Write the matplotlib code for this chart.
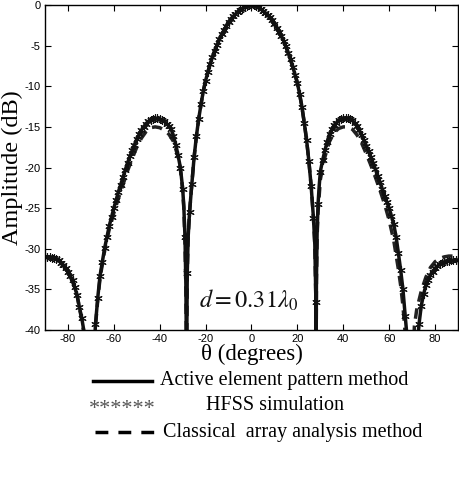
import numpy as np
import matplotlib
matplotlib.use("Agg")
import matplotlib.pyplot as plt
from matplotlib.lines import Line2D
from matplotlib import font_manager

plt.rcParams['axes.unicode_minus'] = False
plt.rcParams['mathtext.fontset'] = 'stix'

# active element pattern method (solid line)
aep_theta = [-90, -88, -86, -84, -82, -80, -78, -76, -75, -74, -73, -72, -70, -68.5, -68, -67, -66,
             -65, -64, -62, -60, -58, -56, -54, -52, -50, -48, -46, -44, -42, -40, -38, -36, -35,
             -34, -33, -32, -31, -30, -29.5, -29, -28.6, -28.3, -28.0, -27.6, -27, -26, -25, -24,
             -23, -22, -21, -20, -18, -16, -14, -12, -10, -8, -6, -4, -2, 0,
             2, 4, 6, 8, 10, 12, 14, 16, 18, 20, 21, 22, 23, 24, 25, 26, 27, 27.6, 28.0, 28.15,
             28.3, 28.6, 29, 29.5, 30, 31, 32, 33, 34, 36, 38, 40, 42, 44, 46, 48, 50, 52, 54, 56,
             58, 60, 62, 63, 64, 65, 66, 67, 68, 70, 72, 72.5, 73, 74, 75, 76, 78, 80, 82, 84, 86,
             88, 90]
aep_db = [-31.0, -31.0, -31.1, -31.4, -32.0, -32.8, -33.9, -35.7, -37.2, -38.5, -40.2, -44, -48,
          -42, -39.3, -36.0, -33.3, -31.6, -29.9, -27.2, -25.0, -23.0, -21.2, -19.4, -17.9, -16.5,
          -15.4, -14.6, -14.1, -13.9, -14.0, -14.3, -14.9, -15.3, -16.1, -17.2, -18.5, -20.0,
          -22.6, -24.8, -28.5, -34.5, -45, -33, -28.5, -25.5, -22.0, -18.7, -16.1, -14.0, -12.2,
          -10.6, -9.3, -7.2, -5.6, -4.2, -3.1, -2.1, -1.4, -0.85, -0.45, -0.1, 0.0,
          -0.15, -0.5, -0.95, -1.5, -2.3, -3.3, -4.4, -5.9, -7.6, -9.6, -11.0, -12.6, -14.5,
          -16.6, -19.2, -22.3, -26.2, -29.5, -35.5, -45, -34, -28.0, -24.5, -22.3, -20.5, -19.1,
          -17.9, -16.8, -15.9, -14.8, -14.2, -13.9, -13.9, -14.2, -14.9, -16.0, -17.3, -18.7,
          -20.2, -21.8, -23.5, -25.0, -27.0, -28.5, -30.5, -32.6, -35.0, -38.3, -41.5, -48, -44,
          -41, -39.3, -37.0, -35.6, -34.5, -33.2, -32.4, -31.9, -31.6, -31.5, -31.4, -31.4]

# classical array analysis method (dashed line)
caa_theta = [-90, -88, -86, -84, -82, -80, -78, -76, -75, -74, -73, -70, -68.5, -68, -67, -66,
             -65, -64, -62, -60, -58, -56, -54, -52, -50, -48, -46, -44, -42, -40, -38, -36, -34,
             -32, -31, -30, -29.5, -29, -28.6, -28.3, -28.0, -27.6, -27, -26, -25, -24, -23, -22,
             -21, -20, -18, -16, -14, -12, -10, -8, -6, -4, -2, 0,
             2, 4, 6, 8, 10, 12, 14, 16, 18, 20, 21, 22, 23, 24, 25, 26, 27, 27.6, 28.0, 28.15,
             28.3, 28.6, 29, 30, 31, 32, 34, 36, 38, 40, 42, 44, 46, 48, 50, 52, 54, 56, 58, 60,
             62, 64, 65, 66, 67, 67.5, 70.5, 71, 72, 74, 76, 78, 80, 82, 84, 86, 88, 90]
caa_db = [-31.0, -31.0, -31.2, -31.5, -32.1, -32.9, -34.0, -35.8, -37.3, -38.7, -40.5, -48, -42,
          -39.5, -36.3, -33.6, -31.9, -30.2, -27.6, -25.6, -23.8, -22.1, -20.4, -18.9, -17.5,
          -16.4, -15.6, -15.1, -15.0, -15.1, -15.4, -15.9, -16.8, -18.7, -20.2, -22.8, -25.0,
          -29.0, -35.0, -45, -33, -28.5, -25.5, -22.0, -18.7, -16.1, -14.0, -12.2, -10.6, -9.3,
          -7.2, -5.6, -4.2, -3.1, -2.1, -1.4, -0.85, -0.45, -0.1, 0.0,
          -0.15, -0.5, -0.95, -1.5, -2.3, -3.3, -4.4, -5.9, -7.6, -9.6, -11.0, -12.6, -14.5,
          -16.6, -19.2, -22.3, -26.2, -29.5, -35.5, -45, -34, -28.5, -25.5, -21.5, -20.0, -18.7,
          -16.8, -15.7, -15.2, -15.0, -15.0, -15.3, -16.0, -17.0, -18.3, -19.7, -21.2, -22.8,
          -24.5, -26.5, -29.0, -32.5, -34.5, -37.0, -40.5, -43, -43, -39.5, -37.5, -35.2, -33.5,
          -32.3, -31.6, -31.2, -31.0, -30.9, -30.9, -30.9]

# HFSS simulation (asterisks), 1 degree steps
hfss_theta = list(range(-90, 91))
hfss_db = [-31.0, -31.0, -31.0, -31.1, -31.1, -31.3, -31.4, -31.7, -32.0, -32.4,
           -32.8, -33.3, -33.9, -34.7, -35.7, -37.2, -38.5, -40.2, -43, -46,
           -48, -46, -39.3, -36.0, -33.3, -31.6, -29.9, -28.5, -27.2, -26.1,
           -25.0, -24.0, -23.0, -22.1, -21.2, -20.3, -19.4, -18.6, -17.9, -17.2,
           -16.5, -15.9, -15.4, -15.0, -14.6, -14.3, -14.1, -14.0, -13.9, -13.9,
           -14.0, -14.1, -14.3, -14.6, -14.9, -15.3, -16.1, -17.2, -18.5, -20.0,
           -22.6, -28.5, -33, -25.5, -22.0, -18.7, -16.1, -14.0, -12.2, -10.6,
           -9.3, -8.2, -7.2, -6.4, -5.6, -4.9, -4.2, -3.6, -3.1, -2.6,
           -2.1, -1.7, -1.4, -1.1, -0.85, -0.6, -0.45, -0.25, -0.1, -0.05,
           0.0,
           -0.05, -0.15, -0.3, -0.5, -0.7, -0.95, -1.2, -1.5, -1.9, -2.3,
           -2.8, -3.3, -3.8, -4.4, -5.1, -5.9, -6.7, -7.6, -8.6, -9.6,
           -11.0, -12.6, -14.5, -16.6, -19.2, -22.3, -26.2, -36.5, -24.5, -20.5,
           -19.1, -17.9, -16.8, -15.9, -15.3, -14.8, -14.5, -14.2, -14.0, -13.9,
           -13.85, -13.9, -14.0, -14.2, -14.5, -14.9, -15.4, -16.0, -16.6, -17.3,
           -18.0, -18.7, -19.4, -20.2, -21.0, -21.8, -22.6, -23.5, -24.3, -25.0,
           -26.0, -27.0, -28.5, -30.5, -32.6, -35.0, -38.3, -41.5, -45, -48,
           -46, -43, -39.3, -37.0, -35.6, -34.5, -33.8, -33.2, -32.8, -32.4,
           -32.1, -31.9, -31.7, -31.6, -31.5, -31.5, -31.4, -31.4, -31.4, -31.4]

xticks = [-80, -60, -40, -20, 0, 20, 40, 60, 80]
yticks = [0, -5, -10, -15, -20, -25, -30, -35, -40]

names = {f.name for f in font_manager.fontManager.ttflist}
tick_font = 'Liberation Sans Narrow' if 'Liberation Sans Narrow' in names else 'Liberation Sans'
serif = 'Liberation Serif'

fig = plt.figure(figsize=(4.6, 4.78), dpi=100)
ax = fig.add_axes([45 / 460, 148 / 478, 413 / 460, 325 / 478])

ax.plot(caa_theta, caa_db, color='#222222', lw=2.5, ls=(0, (3, 2)))
ax.plot(aep_theta, aep_db, color='#111111', lw=2.5)
ax.plot(hfss_theta, hfss_db, ls='none', marker=(6, 2, 0), ms=6, mew=0.8, color='#111111')

ax.set_xlim(-90, 90)
ax.set_ylim(-40, 0)
ax.set_xticks(xticks)
ax.set_yticks(yticks)
ax.set_xticklabels([str(t) for t in xticks], fontfamily=tick_font, fontsize=8)
ax.set_yticklabels([str(t) for t in yticks], fontfamily=tick_font, fontsize=8)
ax.tick_params(direction='in', length=4, width=0.8, top=True, right=True, pad=3)
for s in ax.spines.values():
    s.set_linewidth(1.0)

ax.set_ylabel('Amplitude (dB)', fontfamily=serif, fontsize=17.5, labelpad=1)
ax.set_xlabel('θ (degrees)', fontfamily=serif, fontsize=16.5, labelpad=0)

ax.text(-23, -37.3, r'$d=0.31\lambda_0$', fontsize=17.5, color='#111111')

# legend drawn below the axes
fig.add_artist(Line2D([93 / 460, 152 / 460], [1 - 381 / 478] * 2, color='black', lw=2.5))
fig.text(160 / 460, 1 - 381 / 478, 'Active element pattern method', fontfamily=serif,
         fontsize=14.5, va='center')
fig.text(89 / 460, 1 - 410 / 478, '******', fontfamily=serif, fontsize=16, color='#555555',
         va='center')
fig.text(206 / 460, 1 - 406 / 478, 'HFSS simulation', fontfamily=serif, fontsize=14.5,
         va='center')
fig.add_artist(Line2D([95 / 460, 154 / 460], [1 - 432 / 478] * 2, color='black', lw=2.5,
                      ls=(0, (3.7, 2.9)), solid_capstyle='butt', dash_capstyle='butt'))
fig.text(163 / 460, 1 - 432 / 478, 'Classical  array analysis method', fontfamily=serif,
         fontsize=14.5, va='center')

fig.savefig('out.png', dpi=100)
